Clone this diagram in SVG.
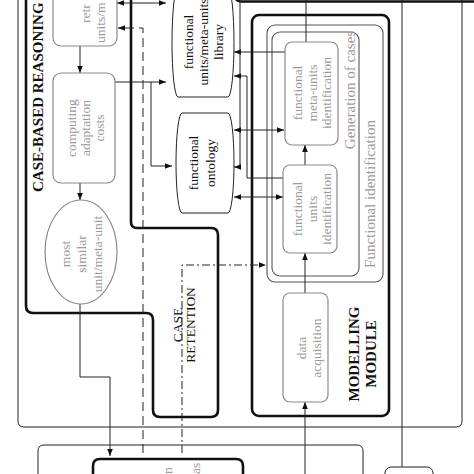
<svg xmlns="http://www.w3.org/2000/svg" width="474" height="474" viewBox="0 0 474 474">
<style>
text{font-family:"Liberation Serif","Times New Roman",serif}
.g{fill:#9a9a9a;font-size:13.5px}
.gl{fill:#9a9a9a;font-size:15px}
.k{fill:#111;font-size:13.5px}
.b{fill:#111;font-size:15px;font-weight:bold}
.gb{fill:#fff;stroke:#8a8a8a;stroke-width:1.2}
.th{fill:none;stroke:#111;stroke-width:2.6}
.ln{fill:none;stroke:#222;stroke-width:1}
.fr{fill:none;stroke:#555;stroke-width:1.1}
.cy{fill:#fff;stroke:#222;stroke-width:1}
</style>
<defs>
<marker id="a" viewBox="0 0 10 10" refX="10" refY="5" markerWidth="7" markerHeight="7" markerUnits="userSpaceOnUse" orient="auto-start-reverse"><path d="M0,1 L10,5 L0,9 z" fill="#111"/></marker>
</defs>
<rect width="474" height="474" fill="#fff"/>

<g id="frames">
<path class="ln" d="M18,-5 V421 Q18,427 24,427 H456 Q462,427 462,421 V-5"/>
<path class="th" d="M131,-5 V222 Q131,228 137,228 H211 Q218,228 218,235 V410 Q218,417 211,417 H160 Q153,417 153,410 V320 Q153,313 146,313 H33 Q26,313 26,306 V-5"/>
<path class="th" d="M236,-5 V-3 Q236,1.5 241,1.5 H480"/>
<path class="ln" d="M38,480 V451 Q38,445 44,445 H357 Q363,445 363,451 V480"/>
<path class="th" d="M93,480 V466 Q93,459 100,459 H236 Q243,459 243,466 V480"/>
<rect class="ln" x="385" y="467" width="48" height="20" rx="6"/>
</g>

<g id="cbr-label"><text class="b" transform="translate(43,192) rotate(-90)">CASE-BASED REASONING</text></g>

<g id="case-retention">
<text class="k" text-anchor="middle" transform="translate(181.5,325) rotate(-90)">CASE</text>
<text class="k" text-anchor="middle" transform="translate(194.5,325) rotate(-90)">RETENTION</text>
</g>

<g id="modelling">
<rect class="th" x="252" y="15" width="137" height="401" rx="7"/>
<text class="b" text-anchor="middle" transform="translate(359,354) rotate(-90)">MODELLING</text>
<text class="b" text-anchor="middle" transform="translate(376,354) rotate(-90)">MODULE</text>
</g>

<g id="functional-identification">
<rect class="fr" x="267" y="25" width="116" height="257" rx="8"/>
<text class="gl" text-anchor="middle" transform="translate(375,194) rotate(-90)">Functional identification</text>
</g>
<g id="generation-of-cases">
<rect class="fr" x="272" y="32" width="87" height="244" rx="8"/>
<text class="gl" text-anchor="middle" transform="translate(355,90) rotate(-90)">Generation of cases</text>
</g>

<g id="connectors">
<path class="ln" d="M117,3 H166" marker-start="url(#a)" marker-end="url(#a)"/>
<path class="ln" d="M143,453 V28 H118" stroke-dasharray="9,5" stroke-width="1.8" marker-end="url(#a)"/>
<path class="ln" d="M80,46 V73" marker-end="url(#a)"/>
<path class="ln" d="M80,183 V200" marker-end="url(#a)"/>
<path class="ln" d="M80,304 V377 H110 V456" marker-end="url(#a)"/>
<path class="ln" d="M115,82 H166" marker-end="url(#a)"/>
<path class="ln" d="M151,82 V166 H172" marker-end="url(#a)"/>
<path class="ln" d="M285,52 H234" marker-end="url(#a)"/>
<path class="ln" d="M283,178 H247 V76 H234" marker-end="url(#a)"/>
<path class="ln" d="M240,-5 V167 H234" marker-end="url(#a)"/>
<path class="ln" d="M234,130 H284" marker-start="url(#a)" marker-end="url(#a)"/>
<path class="ln" d="M234,197 H283" marker-start="url(#a)" marker-end="url(#a)"/>
<path class="ln" d="M306,-5 V42"/>
<path class="ln" d="M305,165 V145" marker-end="url(#a)"/>
<path class="ln" d="M305,293 V253" marker-end="url(#a)"/>
<path class="ln" d="M305,480 V402" marker-end="url(#a)"/>
<path class="ln" d="M402,-5 V467"/>
<path class="ln" d="M182,453 V265 H266" stroke-dasharray="8,3,2,3" marker-end="url(#a)"/>
</g>

<g id="retrieving">
<rect class="gb" x="53" y="-12" width="64" height="58" rx="8"/>
<text class="g" transform="translate(90,23) rotate(-90)">retr</text>
<text class="g" transform="translate(105,43) rotate(-90)">units/m</text>
</g>
<g id="computing">
<rect class="gb" x="53" y="73" width="62" height="110" rx="8"/>
<text class="g" text-anchor="middle" transform="translate(76,128) rotate(-90)">computing</text>
<text class="g" text-anchor="middle" transform="translate(90,128) rotate(-90)">adaptation</text>
<text class="g" text-anchor="middle" transform="translate(104,128) rotate(-90)">costs</text>
</g>
<g id="most-similar">
<ellipse class="gb" cx="81" cy="252" rx="36" ry="52"/>
<text class="g" text-anchor="middle" transform="translate(70,254) rotate(-90)">most</text>
<text class="g" text-anchor="middle" transform="translate(86,254) rotate(-90)">similar</text>
<text class="g" text-anchor="middle" transform="translate(102,254) rotate(-90)">unit/meta-unit</text>
</g>

<g id="library">
<path class="cy" d="M178,-12 H228 A6,54.5 0 0 1 228,97 H178 A6,54.5 0 0 1 178,-12 Z"/>
<text class="k" text-anchor="middle" transform="translate(193,42) rotate(-90)">functional</text>
<text class="k" text-anchor="middle" transform="translate(208,42) rotate(-90)">units/meta-units</text>
<text class="k" text-anchor="middle" transform="translate(223,42) rotate(-90)">library</text>
</g>
<g id="ontology">
<path class="cy" d="M182,113 H228 A6,50 0 0 1 228,213 H182 A6,50 0 0 1 182,113 Z"/>
<text class="k" text-anchor="middle" transform="translate(198,163) rotate(-90)">functional</text>
<text class="k" text-anchor="middle" transform="translate(215,163) rotate(-90)">ontology</text>
</g>

<g id="meta-units-identification">
<rect class="gb" x="285" y="42" width="53" height="103" rx="7"/>
<text class="g" text-anchor="middle" transform="translate(302,93) rotate(-90)">functional</text>
<text class="g" text-anchor="middle" transform="translate(317,93) rotate(-90)">meta-units</text>
<text class="g" text-anchor="middle" transform="translate(331,93) rotate(-90)">identification</text>
</g>
<g id="units-identification">
<rect class="gb" x="283" y="165" width="54" height="88" rx="7"/>
<text class="g" text-anchor="middle" transform="translate(302,209) rotate(-90)">functional</text>
<text class="g" text-anchor="middle" transform="translate(317,209) rotate(-90)">units</text>
<text class="g" text-anchor="middle" transform="translate(331,209) rotate(-90)">identification</text>
</g>
<g id="data-acquisition">
<rect class="gb" x="283" y="293" width="45" height="109" rx="7"/>
<text class="g" text-anchor="middle" transform="translate(306,348) rotate(-90)">data</text>
<text class="g" text-anchor="middle" transform="translate(321,348) rotate(-90)">acquisition</text>
</g>

<g id="bottom-text">
<text class="g" transform="translate(172,474) rotate(-90)">n</text>
<text class="g" transform="translate(200,474) rotate(-90)">as</text>
</g>
</svg>
